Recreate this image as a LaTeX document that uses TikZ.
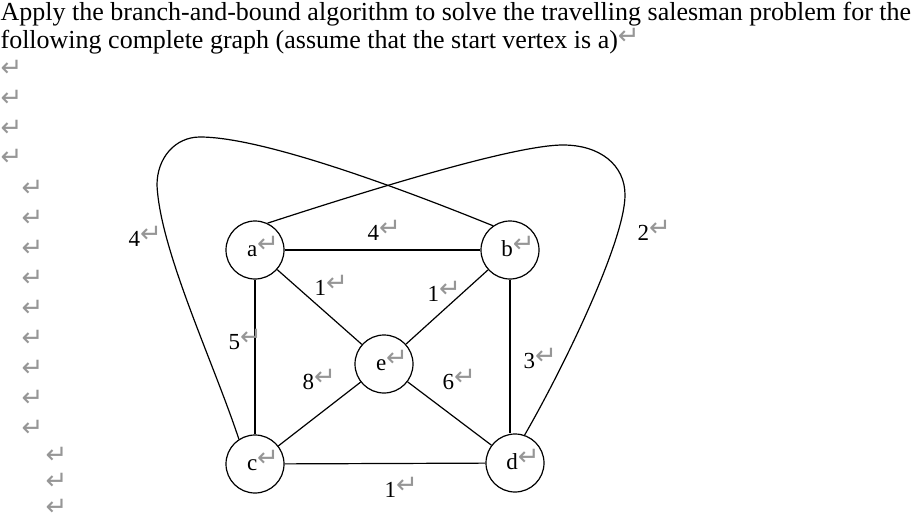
\documentclass[tikz,border=0pt]{standalone}
\usepackage{fontspec}
\setmainfont{Liberation Serif}
\newfontfamily\markfont{DejaVu Sans}
\usepackage{tikz}

\definecolor{markgray}{RGB}{150,150,150}
\newcommand{\retglyph}{{\markfont\fontsize{26}{26}\selectfont\textcolor{markgray}{↵}}}
\newcommand{\ret}{\raisebox{4pt}{\retglyph}}

\begin{document}
\begin{tikzpicture}[x=1pt, y=-1pt, line width=1.2pt,
    vertex/.style={draw, circle, minimum size=58pt, inner sep=0pt, text height=12pt, text depth=0pt,
        execute at begin node=\hspace*{16pt}, font=\fontsize{23}{23}\selectfont},
    weight/.style={anchor=base west, inner sep=0pt, font=\fontsize{23}{23}\selectfont},
    retmark/.style={anchor=west, inner sep=0pt}]
    \useasboundingbox (0,0) rectangle (917,525);

    \node[anchor=base west, inner sep=0pt, font=\fontsize{26}{26}\selectfont] (line1) at (0,20)
        {Apply the branch-and-bound algorithm to solve the travelling salesman problem for the};
    \node[anchor=base west, inner sep=0pt, font=\fontsize{26}{26}\selectfont] (line2) at (0,48)
        {following complete graph (assume that the start vertex is a)\ret};

    \foreach \y [count=\i] in {68,98,128,157}
        \node[retmark] (r1-\i) at (0,\y) {\retglyph};
    \foreach \y [count=\i] in {188,218,248,278,308,338,368,398,428}
        \node[retmark] (r2-\i) at (21,\y) {\retglyph};
    \foreach \y [count=\i] in {455,481,507}
        \node[retmark] (r3-\i) at (45,\y) {\retglyph};

    \node[vertex] (a) at (255,250) {a\ret};
    \node[vertex] (b) at (510,250) {b\ret};
    \node[vertex] (e) at (384,364) {e\ret};
    \node[vertex] (c) at (255,464) {c\ret};
    \node[vertex] (d) at (515,463) {d\ret};

    \path (a) edge (b);
    \path (a) edge (c);
    \path (b) edge (b |- d.north);
    \path (c) edge (d);
    \path (a) edge (e);
    \path (b) edge (e);
    \path (e) edge (c);
    \path (e) edge (d);

    \draw (b.125) .. controls (390,184) and (260,137) .. (200,137)
        .. controls (175,137) and (157,158) .. (157,185)
        .. controls (160,250) and (213,361) .. (c.123);
    \draw (a.65) .. controls (400,180) and (520,145) .. (563,145)
        .. controls (600,145) and (625,165) .. (625,195)
        .. controls (625,240) and (565,365) .. (d.71);

    \node[weight] (wab) at (367,240) {4\ret};
    \node[weight] (wae) at (314,295) {1\ret};
    \node[weight] (wbe) at (427,301) {1\ret};
    \node[weight] (wac) at (228,349) {5\ret};
    \node[weight] (wce) at (302,389) {8\ret};
    \node[weight] (wde) at (442,389) {6\ret};
    \node[weight] (wbd) at (523,368) {3\ret};
    \node[weight] (wcd) at (384,497) {1\ret};
    \node[weight] (wbc) at (128,246) {4\ret};
    \node[weight] (wad) at (637,240) {2\ret};
\end{tikzpicture}
\end{document}
